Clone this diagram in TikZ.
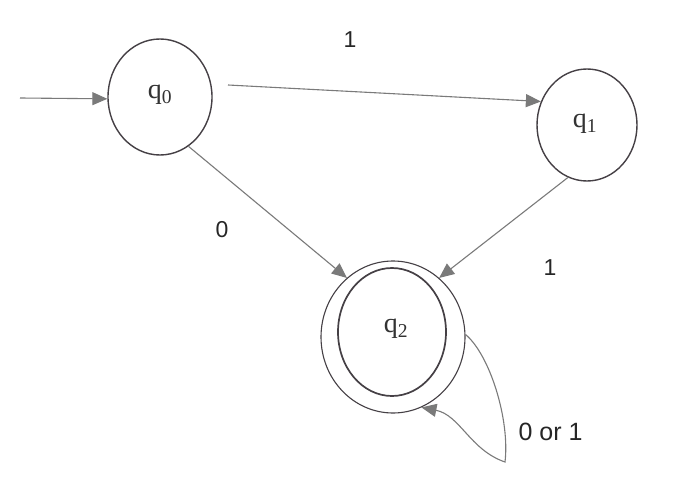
\documentclass[tikz,border=0pt]{standalone}
\usepackage{fontspec}
\setmainfont{Liberation Serif}
\newfontfamily\labfont{Liberation Sans}
\usetikzlibrary{arrows.meta,shapes.geometric}
\definecolor{edgegray}{HTML}{7A7A7A}
\definecolor{ringgray}{HTML}{454045}
\tikzset{
  statebox/.style={ellipse,draw=ringgray,line width=1.4pt,inner sep=0pt},
  qtext/.style={font=\fontsize{28}{28}\selectfont,text=black!80},
  edge/.style={draw=edgegray,line width=1.1pt,-{Triangle[length=15pt,width=13pt]}},
  elabel/.style={font=\labfont\fontsize{23}{23}\selectfont,text=black!85}
}
\begin{document}
\begin{tikzpicture}[x=1pt,y=-1pt]
\useasboundingbox (0,0) rectangle (700,494);
\fill[white] (0,0) rectangle (700,494);
\node[statebox,minimum width=104pt,minimum height=116pt] (q0) at (160,97) {};
\node[qtext] at (160,95) (t0) {q\textsubscript{0}};
\node[statebox,minimum width=100pt,minimum height=112pt] (q1) at (587,125) {};
\node[qtext] at (585,124) (t1) {q\textsubscript{1}};
\node[statebox,minimum width=144pt,minimum height=152pt,line width=1.1pt] (q2) at (393,337) {};
\node[statebox,minimum width=108pt,minimum height=128pt,line width=1.7pt] (q2i) at (392,332) {};
\node[qtext] at (396,329) (t2) {q\textsubscript{2}};
\coordinate (start) at (20,98);
\coordinate (s01) at (228,85);
\draw[edge] (start) -- (q0.182);
\draw[edge] (s01) -- (q1.153);
\node[elabel] (l1) at (350,40) {1};
\draw[edge] (q0.-60) -- (q2.128);
\node[elabel] (l0) at (222,230) {0};
\draw[edge] (q1.-110) -- (q2.52);
\node[elabel] (l2) at (550,268) {1};
\coordinate (loopbot) at (505,462);
\draw[edge] (q2.2) .. controls (490,355) and (510,420) .. (loopbot)
  .. controls (470,450) and (460,415) .. (q2.-68);
\node[elabel,anchor=west] (l3) at (515,432) {\fontsize{25}{25}\selectfont 0 or 1};
\end{tikzpicture}
\end{document}
